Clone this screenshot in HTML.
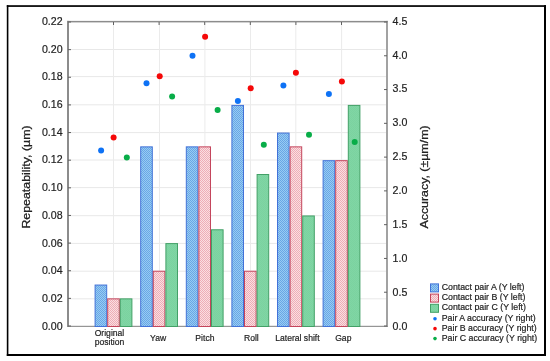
<!DOCTYPE html>
<html><head><meta charset="utf-8"><title>Chart</title>
<style>html,body{margin:0;padding:0;background:#fff;width:550px;height:361px;overflow:hidden}</style>
</head><body>
<svg width="550" height="361" viewBox="0 0 550 361" style="display:block">
<defs>
<pattern id="pA" patternUnits="userSpaceOnUse" width="2" height="2"><rect width="2" height="2" fill="#96cdf2"/><rect width="1" height="1" fill="#6aa5e6"/><rect x="1" y="1" width="1" height="1" fill="#6aa5e6"/></pattern>
<pattern id="pB" patternUnits="userSpaceOnUse" width="2" height="2"><rect width="2" height="2" fill="#fadfe1"/><rect width="1" height="1" fill="#eeadb7"/><rect x="1" y="1" width="1" height="1" fill="#eeadb7"/></pattern>
<pattern id="pC" patternUnits="userSpaceOnUse" width="2" height="2"><rect width="2" height="2" fill="#80d6a4"/><rect width="1" height="1" fill="#7bd2a0"/><rect x="1" y="1" width="1" height="1" fill="#7bd2a0"/></pattern>
</defs>
<rect width="550" height="361" fill="#fff"/>
<line x1="69.0" y1="298.8" x2="386.0" y2="298.8" stroke="#e8e8e8" stroke-width="1"/>
<line x1="69.0" y1="271.2" x2="386.0" y2="271.2" stroke="#e8e8e8" stroke-width="1"/>
<line x1="69.0" y1="243.4" x2="386.0" y2="243.4" stroke="#e8e8e8" stroke-width="1"/>
<line x1="69.0" y1="215.7" x2="386.0" y2="215.7" stroke="#e8e8e8" stroke-width="1"/>
<line x1="69.0" y1="187.6" x2="386.0" y2="187.6" stroke="#e8e8e8" stroke-width="1"/>
<line x1="69.0" y1="160.0" x2="386.0" y2="160.0" stroke="#e8e8e8" stroke-width="1"/>
<line x1="69.0" y1="132.6" x2="386.0" y2="132.6" stroke="#e8e8e8" stroke-width="1"/>
<line x1="69.0" y1="104.8" x2="386.0" y2="104.8" stroke="#e8e8e8" stroke-width="1"/>
<line x1="69.0" y1="76.6" x2="386.0" y2="76.6" stroke="#e8e8e8" stroke-width="1"/>
<line x1="69.0" y1="49.5" x2="386.0" y2="49.5" stroke="#e8e8e8" stroke-width="1"/>
<line x1="113.5" y1="23.0" x2="113.5" y2="325.0" stroke="#ebebeb" stroke-width="1"/>
<line x1="159.5" y1="23.0" x2="159.5" y2="325.0" stroke="#ebebeb" stroke-width="1"/>
<line x1="204.9" y1="23.0" x2="204.9" y2="325.0" stroke="#ebebeb" stroke-width="1"/>
<line x1="250.5" y1="23.0" x2="250.5" y2="325.0" stroke="#ebebeb" stroke-width="1"/>
<line x1="295.8" y1="23.0" x2="295.8" y2="325.0" stroke="#ebebeb" stroke-width="1"/>
<line x1="341.6" y1="23.0" x2="341.6" y2="325.0" stroke="#ebebeb" stroke-width="1"/>
<rect x="67" y="20.9" width="321" height="1.5" fill="#8c8c8c"/>
<rect x="67" y="325.8" width="321" height="1.1" fill="#8a8a8a"/>
<rect x="67" y="20.9" width="2" height="306" fill="#8c8c8c"/>
<rect x="386.2" y="20.9" width="1.6" height="306" fill="#8c8c8c"/>
<line x1="68.0" y1="326.00" x2="71.0" y2="326.00" stroke="#606060" stroke-width="1"/>
<line x1="68.0" y1="298.36" x2="71.0" y2="298.36" stroke="#606060" stroke-width="1"/>
<line x1="68.0" y1="270.73" x2="71.0" y2="270.73" stroke="#606060" stroke-width="1"/>
<line x1="68.0" y1="243.09" x2="71.0" y2="243.09" stroke="#606060" stroke-width="1"/>
<line x1="68.0" y1="215.45" x2="71.0" y2="215.45" stroke="#606060" stroke-width="1"/>
<line x1="68.0" y1="187.82" x2="71.0" y2="187.82" stroke="#606060" stroke-width="1"/>
<line x1="68.0" y1="160.18" x2="71.0" y2="160.18" stroke="#606060" stroke-width="1"/>
<line x1="68.0" y1="132.55" x2="71.0" y2="132.55" stroke="#606060" stroke-width="1"/>
<line x1="68.0" y1="104.91" x2="71.0" y2="104.91" stroke="#606060" stroke-width="1"/>
<line x1="68.0" y1="77.27" x2="71.0" y2="77.27" stroke="#606060" stroke-width="1"/>
<line x1="68.0" y1="49.64" x2="71.0" y2="49.64" stroke="#606060" stroke-width="1"/>
<line x1="68.0" y1="22.00" x2="71.0" y2="22.00" stroke="#606060" stroke-width="1"/>
<line x1="384.0" y1="326.00" x2="387.0" y2="326.00" stroke="#606060" stroke-width="1"/>
<line x1="384.0" y1="292.22" x2="387.0" y2="292.22" stroke="#606060" stroke-width="1"/>
<line x1="384.0" y1="258.44" x2="387.0" y2="258.44" stroke="#606060" stroke-width="1"/>
<line x1="384.0" y1="224.67" x2="387.0" y2="224.67" stroke="#606060" stroke-width="1"/>
<line x1="384.0" y1="190.89" x2="387.0" y2="190.89" stroke="#606060" stroke-width="1"/>
<line x1="384.0" y1="157.11" x2="387.0" y2="157.11" stroke="#606060" stroke-width="1"/>
<line x1="384.0" y1="123.33" x2="387.0" y2="123.33" stroke="#606060" stroke-width="1"/>
<line x1="384.0" y1="89.56" x2="387.0" y2="89.56" stroke="#606060" stroke-width="1"/>
<line x1="384.0" y1="55.78" x2="387.0" y2="55.78" stroke="#606060" stroke-width="1"/>
<line x1="384.0" y1="22.00" x2="387.0" y2="22.00" stroke="#606060" stroke-width="1"/>
<line x1="113.50" y1="22.0" x2="113.50" y2="25.0" stroke="#606060" stroke-width="1"/>
<line x1="159.10" y1="22.0" x2="159.10" y2="25.0" stroke="#606060" stroke-width="1"/>
<line x1="204.70" y1="22.0" x2="204.70" y2="25.0" stroke="#606060" stroke-width="1"/>
<line x1="250.30" y1="22.0" x2="250.30" y2="25.0" stroke="#606060" stroke-width="1"/>
<line x1="295.90" y1="22.0" x2="295.90" y2="25.0" stroke="#606060" stroke-width="1"/>
<line x1="341.50" y1="22.0" x2="341.50" y2="25.0" stroke="#606060" stroke-width="1"/>
<rect x="95.10" y="285.05" width="11.60" height="41.45" fill="url(#pA)" stroke="#4272d8" stroke-width="1"/>
<rect x="107.70" y="298.86" width="11.60" height="27.64" fill="url(#pB)" stroke="#c4455c" stroke-width="1"/>
<rect x="120.30" y="298.86" width="11.60" height="27.64" fill="url(#pC)" stroke="#43a067" stroke-width="1"/>
<rect x="140.70" y="146.86" width="11.60" height="179.64" fill="url(#pA)" stroke="#4272d8" stroke-width="1"/>
<rect x="153.30" y="271.23" width="11.60" height="55.27" fill="url(#pB)" stroke="#c4455c" stroke-width="1"/>
<rect x="165.90" y="243.59" width="11.60" height="82.91" fill="url(#pC)" stroke="#43a067" stroke-width="1"/>
<rect x="186.30" y="146.86" width="11.60" height="179.64" fill="url(#pA)" stroke="#4272d8" stroke-width="1"/>
<rect x="198.90" y="146.86" width="11.60" height="179.64" fill="url(#pB)" stroke="#c4455c" stroke-width="1"/>
<rect x="211.50" y="229.77" width="11.60" height="96.73" fill="url(#pC)" stroke="#43a067" stroke-width="1"/>
<rect x="231.90" y="105.41" width="11.60" height="221.09" fill="url(#pA)" stroke="#4272d8" stroke-width="1"/>
<rect x="244.50" y="271.23" width="11.60" height="55.27" fill="url(#pB)" stroke="#c4455c" stroke-width="1"/>
<rect x="257.10" y="174.50" width="11.60" height="152.00" fill="url(#pC)" stroke="#43a067" stroke-width="1"/>
<rect x="277.50" y="133.05" width="11.60" height="193.45" fill="url(#pA)" stroke="#4272d8" stroke-width="1"/>
<rect x="290.10" y="146.86" width="11.60" height="179.64" fill="url(#pB)" stroke="#c4455c" stroke-width="1"/>
<rect x="302.70" y="215.95" width="11.60" height="110.55" fill="url(#pC)" stroke="#43a067" stroke-width="1"/>
<rect x="323.10" y="160.68" width="11.60" height="165.82" fill="url(#pA)" stroke="#4272d8" stroke-width="1"/>
<rect x="335.70" y="160.68" width="11.60" height="165.82" fill="url(#pB)" stroke="#c4455c" stroke-width="1"/>
<rect x="348.30" y="105.41" width="11.60" height="221.09" fill="url(#pC)" stroke="#43a067" stroke-width="1"/>
<circle cx="101.1" cy="150.5" r="3" fill="#0e72f5"/>
<circle cx="113.6" cy="137.5" r="3" fill="#f50808"/>
<circle cx="126.8" cy="157.5" r="3" fill="#08ad48"/>
<circle cx="146.5" cy="83.3" r="3" fill="#0e72f5"/>
<circle cx="159.7" cy="76.2" r="3" fill="#f50808"/>
<circle cx="172.1" cy="96.4" r="3" fill="#08ad48"/>
<circle cx="192.5" cy="55.7" r="3" fill="#0e72f5"/>
<circle cx="205.1" cy="36.8" r="3" fill="#f50808"/>
<circle cx="217.6" cy="110.1" r="3" fill="#08ad48"/>
<circle cx="237.9" cy="101.1" r="3" fill="#0e72f5"/>
<circle cx="250.7" cy="88.2" r="3" fill="#f50808"/>
<circle cx="263.8" cy="144.7" r="3" fill="#08ad48"/>
<circle cx="283.4" cy="85.5" r="3" fill="#0e72f5"/>
<circle cx="295.9" cy="72.7" r="3" fill="#f50808"/>
<circle cx="309.0" cy="134.7" r="3" fill="#08ad48"/>
<circle cx="328.9" cy="94.1" r="3" fill="#0e72f5"/>
<circle cx="341.9" cy="81.6" r="3" fill="#f50808"/>
<circle cx="354.7" cy="141.9" r="3" fill="#08ad48"/>
<rect x="6.8" y="5.2" width="539.2" height="1.7" fill="#000"/>
<rect x="6.8" y="354" width="539.2" height="2" fill="#000"/>
<rect x="6.8" y="5.2" width="1.6" height="350.8" fill="#000"/>
<rect x="544" y="5.2" width="2" height="350.8" fill="#000"/>
<text transform="translate(62.6,330.00) scale(0.95,1)" font-family="Liberation Sans, Arial, sans-serif" stroke="#222" stroke-width="0.2" font-size="11.2" fill="#222" text-anchor="end">0.00</text>
<text transform="translate(62.6,302.00) scale(0.95,1)" font-family="Liberation Sans, Arial, sans-serif" stroke="#222" stroke-width="0.2" font-size="11.2" fill="#222" text-anchor="end">0.02</text>
<text transform="translate(62.6,274.00) scale(0.95,1)" font-family="Liberation Sans, Arial, sans-serif" stroke="#222" stroke-width="0.2" font-size="11.2" fill="#222" text-anchor="end">0.04</text>
<text transform="translate(62.6,247.00) scale(0.95,1)" font-family="Liberation Sans, Arial, sans-serif" stroke="#222" stroke-width="0.2" font-size="11.2" fill="#222" text-anchor="end">0.06</text>
<text transform="translate(62.6,219.00) scale(0.95,1)" font-family="Liberation Sans, Arial, sans-serif" stroke="#222" stroke-width="0.2" font-size="11.2" fill="#222" text-anchor="end">0.08</text>
<text transform="translate(62.6,191.00) scale(0.95,1)" font-family="Liberation Sans, Arial, sans-serif" stroke="#222" stroke-width="0.2" font-size="11.2" fill="#222" text-anchor="end">0.10</text>
<text transform="translate(62.6,163.00) scale(0.95,1)" font-family="Liberation Sans, Arial, sans-serif" stroke="#222" stroke-width="0.2" font-size="11.2" fill="#222" text-anchor="end">0.12</text>
<text transform="translate(62.6,136.00) scale(0.95,1)" font-family="Liberation Sans, Arial, sans-serif" stroke="#222" stroke-width="0.2" font-size="11.2" fill="#222" text-anchor="end">0.14</text>
<text transform="translate(62.6,108.00) scale(0.95,1)" font-family="Liberation Sans, Arial, sans-serif" stroke="#222" stroke-width="0.2" font-size="11.2" fill="#222" text-anchor="end">0.16</text>
<text transform="translate(62.6,80.00) scale(0.95,1)" font-family="Liberation Sans, Arial, sans-serif" stroke="#222" stroke-width="0.2" font-size="11.2" fill="#222" text-anchor="end">0.18</text>
<text transform="translate(62.6,53.00) scale(0.95,1)" font-family="Liberation Sans, Arial, sans-serif" stroke="#222" stroke-width="0.2" font-size="11.2" fill="#222" text-anchor="end">0.20</text>
<text transform="translate(62.6,25.00) scale(0.95,1)" font-family="Liberation Sans, Arial, sans-serif" stroke="#222" stroke-width="0.2" font-size="11.2" fill="#222" text-anchor="end">0.22</text>
<text transform="translate(392.6,330.00) scale(0.95,1)" font-family="Liberation Sans, Arial, sans-serif" stroke="#222" stroke-width="0.2" font-size="11.2" fill="#222">0.0</text>
<text transform="translate(392.6,296.00) scale(0.95,1)" font-family="Liberation Sans, Arial, sans-serif" stroke="#222" stroke-width="0.2" font-size="11.2" fill="#222">0.5</text>
<text transform="translate(392.6,262.00) scale(0.95,1)" font-family="Liberation Sans, Arial, sans-serif" stroke="#222" stroke-width="0.2" font-size="11.2" fill="#222">1.0</text>
<text transform="translate(392.6,228.00) scale(0.95,1)" font-family="Liberation Sans, Arial, sans-serif" stroke="#222" stroke-width="0.2" font-size="11.2" fill="#222">1.5</text>
<text transform="translate(392.6,194.00) scale(0.95,1)" font-family="Liberation Sans, Arial, sans-serif" stroke="#222" stroke-width="0.2" font-size="11.2" fill="#222">2.0</text>
<text transform="translate(392.6,160.00) scale(0.95,1)" font-family="Liberation Sans, Arial, sans-serif" stroke="#222" stroke-width="0.2" font-size="11.2" fill="#222">2.5</text>
<text transform="translate(392.6,126.00) scale(0.95,1)" font-family="Liberation Sans, Arial, sans-serif" stroke="#222" stroke-width="0.2" font-size="11.2" fill="#222">3.0</text>
<text transform="translate(392.6,92.00) scale(0.95,1)" font-family="Liberation Sans, Arial, sans-serif" stroke="#222" stroke-width="0.2" font-size="11.2" fill="#222">3.5</text>
<text transform="translate(392.6,59.00) scale(0.95,1)" font-family="Liberation Sans, Arial, sans-serif" stroke="#222" stroke-width="0.2" font-size="11.2" fill="#222">4.0</text>
<text transform="translate(392.6,25.00) scale(0.95,1)" font-family="Liberation Sans, Arial, sans-serif" stroke="#222" stroke-width="0.2" font-size="11.2" fill="#222">4.5</text>
<text transform="translate(30.2,177) rotate(-90) scale(1,0.9)" font-family="Liberation Sans, Arial, sans-serif" stroke="#222" font-size="12.4" fill="#222" stroke-width="0.3" text-anchor="middle">Repeatability, (µm)</text>
<text transform="translate(428,177) rotate(-90) scale(1,0.9)" font-family="Liberation Sans, Arial, sans-serif" stroke="#222" font-size="12.4" fill="#222" stroke-width="0.3" text-anchor="middle">Accuracy, (±µm/m)</text>
<text transform="translate(158.1,340.5) scale(0.92,1)" font-family="Liberation Sans, Arial, sans-serif" stroke="#222" stroke-width="0.2" font-size="9.35" fill="#222" text-anchor="middle">Yaw</text>
<text transform="translate(204.9,340.5) scale(0.92,1)" font-family="Liberation Sans, Arial, sans-serif" stroke="#222" stroke-width="0.2" font-size="9.35" fill="#222" text-anchor="middle">Pitch</text>
<text transform="translate(251.35,340.5) scale(0.92,1)" font-family="Liberation Sans, Arial, sans-serif" stroke="#222" stroke-width="0.2" font-size="9.35" fill="#222" text-anchor="middle">Roll</text>
<text transform="translate(297.4,340.5) scale(0.92,1)" font-family="Liberation Sans, Arial, sans-serif" stroke="#222" stroke-width="0.2" font-size="9.35" fill="#222" text-anchor="middle">Lateral shift</text>
<text transform="translate(343.3,340.5) scale(0.92,1)" font-family="Liberation Sans, Arial, sans-serif" stroke="#222" stroke-width="0.2" font-size="9.35" fill="#222" text-anchor="middle">Gap</text>
<text transform="translate(109.45,335.5) scale(0.92,1)" font-family="Liberation Sans, Arial, sans-serif" stroke="#222" stroke-width="0.2" font-size="9.35" fill="#222" text-anchor="middle">Original</text>
<text transform="translate(109.45,345.3) scale(0.92,1)" font-family="Liberation Sans, Arial, sans-serif" stroke="#222" stroke-width="0.2" font-size="9.35" fill="#222" text-anchor="middle">position</text>
<text transform="translate(441.7,290.30) scale(0.94,1)" font-family="Liberation Sans, Arial, sans-serif" stroke="#222" stroke-width="0.2" font-size="9.35" fill="#222">Contact pair A (Y left)</text>
<text transform="translate(441.7,300.38) scale(0.94,1)" font-family="Liberation Sans, Arial, sans-serif" stroke="#222" stroke-width="0.2" font-size="9.35" fill="#222">Contact pair B (Y left)</text>
<text transform="translate(441.7,310.46) scale(0.94,1)" font-family="Liberation Sans, Arial, sans-serif" stroke="#222" stroke-width="0.2" font-size="9.35" fill="#222">Contact pair C (Y left)</text>
<text transform="translate(441.7,320.54) scale(0.94,1)" font-family="Liberation Sans, Arial, sans-serif" stroke="#222" stroke-width="0.2" font-size="9.35" fill="#222">Pair A accuracy (Y right)</text>
<text transform="translate(441.7,330.62) scale(0.94,1)" font-family="Liberation Sans, Arial, sans-serif" stroke="#222" stroke-width="0.2" font-size="9.35" fill="#222">Pair B accuracy (Y right)</text>
<text transform="translate(441.7,340.70) scale(0.94,1)" font-family="Liberation Sans, Arial, sans-serif" stroke="#222" stroke-width="0.2" font-size="9.35" fill="#222">Pair C accuracy (Y right)</text>
<rect x="430.5" y="283.90" width="8" height="8" fill="url(#pA)" stroke="#4272d8" stroke-width="1"/>
<rect x="430.5" y="294.10" width="8" height="8" fill="url(#pB)" stroke="#c4455c" stroke-width="1"/>
<rect x="430.5" y="304.30" width="8" height="8" fill="url(#pC)" stroke="#43a067" stroke-width="1"/>
<circle cx="435" cy="318.70" r="1.8" fill="#0e72f5"/>
<circle cx="435" cy="328.65" r="1.8" fill="#f50808"/>
<circle cx="435" cy="338.60" r="1.8" fill="#08ad48"/>
</svg>
</body></html>
